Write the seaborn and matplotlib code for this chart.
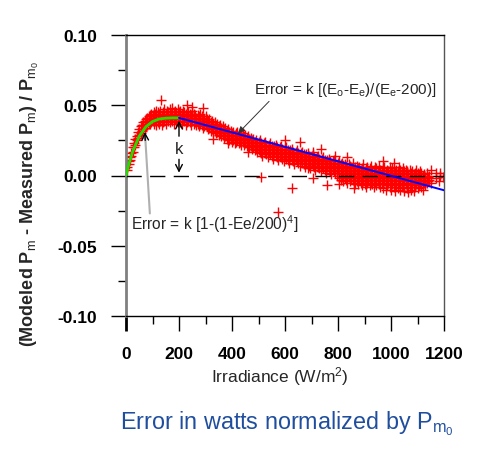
import matplotlib
matplotlib.use("Agg")
import matplotlib.pyplot as plt
import numpy as np
import pandas as pd
import seaborn as sns
from matplotlib.ticker import FixedLocator, FuncFormatter

# ---------------- data ----------------
irr_rise = [5, 10, 15, 20, 25, 30, 35, 40, 45, 50, 55, 60, 65, 70, 75, 80, 85, 90, 95, 100]
err_rise = [[0.004, 0.006], [0.008, 0.010], [0.011, 0.013], [0.014, 0.016], [0.017, 0.020],
            [0.020, 0.023], [0.022, 0.026], [0.025, 0.028], [0.027, 0.031], [0.029, 0.033],
            [0.030, 0.035], [0.032, 0.036], [0.033, 0.038], [0.034, 0.039, 0.036],
            [0.035, 0.040, 0.037], [0.036, 0.041, 0.038], [0.037, 0.042, 0.039],
            [0.037, 0.043, 0.040], [0.038, 0.044, 0.041], [0.039, 0.043, 0.041]]

irr_peak = [105, 110, 115, 120, 125, 130, 135, 140, 145, 150, 155, 160, 165, 170, 175, 180, 185, 190,
            195, 200, 205, 210, 215, 220, 225, 230, 235, 240, 245, 250, 255, 260, 265, 270, 275, 280,
            285, 290, 295, 300]
err_peak = [[0.037, 0.042, 0.045], [0.039, 0.044, 0.041], [0.036, 0.043, 0.046], [0.040, 0.038, 0.045],
            [0.041, 0.044, 0.037], [0.039, 0.046, 0.042], [0.040, 0.043, 0.036], [0.038, 0.045, 0.041],
            [0.042, 0.047, 0.039], [0.040, 0.044, 0.037], [0.043, 0.041, 0.046], [0.039, 0.045, 0.042],
            [0.041, 0.047, 0.038], [0.040, 0.044, 0.043], [0.042, 0.048, 0.039], [0.041, 0.045, 0.037],
            [0.043, 0.040, 0.046], [0.039, 0.044, 0.042], [0.041, 0.047, 0.038], [0.040, 0.045, 0.043],
            [0.042, 0.038, 0.046], [0.041, 0.044, 0.037], [0.040, 0.046, 0.043], [0.039, 0.042, 0.045],
            [0.041, 0.036, 0.044], [0.040, 0.043, 0.038], [0.042, 0.039, 0.045], [0.038, 0.041, 0.044],
            [0.040, 0.036, 0.043], [0.039, 0.042, 0.046], [0.037, 0.041, 0.044], [0.040, 0.038, 0.043],
            [0.036, 0.041, 0.039], [0.039, 0.043, 0.037], [0.038, 0.035, 0.042], [0.040, 0.037, 0.044],
            [0.036, 0.039, 0.042], [0.038, 0.034, 0.041], [0.037, 0.040, 0.035], [0.039, 0.036, 0.042]]

irr_fall = [305, 310, 315, 320, 325, 330, 335, 340, 345, 350, 355, 360, 365, 370, 375, 380, 385, 390,
            395, 400, 405, 410, 415, 420, 425, 430, 435, 440, 445, 450, 455, 460, 465, 470, 475, 480,
            485, 490, 495, 500]
err_fall = [[0.035, 0.038, 0.040], [0.037, 0.033, 0.039], [0.034, 0.036, 0.040], [0.036, 0.032, 0.038],
            [0.035, 0.039, 0.033], [0.034, 0.037, 0.031], [0.036, 0.032, 0.038], [0.033, 0.035, 0.030],
            [0.034, 0.037, 0.031], [0.032, 0.035, 0.029], [0.033, 0.030, 0.036], [0.031, 0.034, 0.028],
            [0.032, 0.029, 0.035], [0.030, 0.033, 0.027], [0.031, 0.034, 0.028], [0.029, 0.032, 0.026],
            [0.030, 0.027, 0.033], [0.028, 0.031, 0.025], [0.029, 0.032, 0.026], [0.027, 0.030, 0.024],
            [0.028, 0.031, 0.025], [0.026, 0.029, 0.023], [0.027, 0.030, 0.024], [0.028, 0.025, 0.031],
            [0.026, 0.029, 0.023], [0.027, 0.024, 0.030], [0.025, 0.028, 0.022], [0.027, 0.024, 0.030],
            [0.025, 0.028, 0.022], [0.026, 0.023, 0.029], [0.024, 0.027, 0.021], [0.025, 0.022, 0.028],
            [0.023, 0.026, 0.020], [0.024, 0.021, 0.027], [0.022, 0.025, 0.019], [0.023, 0.020, 0.026],
            [0.021, 0.024, 0.018], [0.022, 0.019, 0.025], [0.020, 0.023, 0.017], [0.021, 0.018, 0.024]]

irr_mid = [505, 510, 515, 520, 525, 530, 535, 540, 545, 550, 555, 560, 565, 570, 575, 580, 585, 590,
           595, 600, 605, 610, 615, 620, 625, 630, 635, 640, 645, 650, 655, 660, 665, 670, 675, 680,
           685, 690, 695, 700, 705, 710, 715, 720, 725, 730, 735, 740, 745, 750, 755, 760, 765, 770,
           775, 780, 785, 790, 795, 800]
err_mid = [[0.017, 0.022, 0.025], [0.020, 0.016, 0.023], [0.020, 0.017, 0.014], [0.023, 0.018, 0.021],
           [0.016, 0.021, 0.024], [0.019, 0.015, 0.022], [0.019, 0.016, 0.013], [0.022, 0.017, 0.020],
           [0.015, 0.020, 0.023], [0.018, 0.014, 0.021], [0.018, 0.015, 0.012], [0.021, 0.016, 0.019],
           [0.014, 0.019, 0.022], [0.017, 0.013, 0.020], [0.017, 0.014, 0.011], [0.020, 0.015, 0.018],
           [0.013, 0.018, 0.021], [0.016, 0.012, 0.019], [0.016, 0.013, 0.010], [0.019, 0.014, 0.017],
           [0.012, 0.017, 0.020], [0.015, 0.011, 0.018], [0.015, 0.012, 0.009], [0.018, 0.013, 0.016],
           [0.011, 0.016, 0.019], [0.014, 0.010, 0.017], [0.014, 0.011, 0.008], [0.017, 0.012, 0.015],
           [0.010, 0.015, 0.018], [0.013, 0.009, 0.016], [0.013, 0.010, 0.007], [0.016, 0.011, 0.014],
           [0.009, 0.014, 0.017], [0.012, 0.008, 0.015], [0.012, 0.009, 0.006], [0.015, 0.010, 0.013],
           [0.008, 0.013, 0.016], [0.011, 0.007, 0.014], [0.011, 0.008, 0.005], [0.014, 0.009, 0.012],
           [0.007, 0.012, 0.015], [0.010, 0.006, 0.013], [0.010, 0.007, 0.004], [0.013, 0.008, 0.011],
           [0.006, 0.011, 0.014], [0.009, 0.005, 0.012], [0.009, 0.006, 0.003], [0.012, 0.007, 0.010],
           [0.005, 0.010, 0.013], [0.008, 0.004, 0.011], [0.008, 0.005, 0.002], [0.011, 0.006, 0.009],
           [0.004, 0.009, 0.012], [0.007, 0.003, 0.010], [0.007, 0.004, 0.001], [0.010, 0.005, 0.008],
           [0.003, 0.008, 0.011], [0.006, 0.002, 0.009], [0.006, 0.003, 0.000], [0.009, 0.004, 0.007]]

irr_tail = [805, 810, 815, 820, 825, 830, 835, 840, 845, 850, 855, 860, 865, 870, 875, 880, 885, 890,
            895, 900, 905, 910, 915, 920, 925, 930, 935, 940, 945, 950, 955, 960, 965, 970, 975, 980,
            985, 990, 995, 1000, 1005, 1010, 1015, 1020, 1025, 1030, 1035, 1040, 1045, 1050, 1055,
            1060, 1065, 1070, 1075, 1080, 1085, 1090, 1095, 1100, 1105, 1110, 1115, 1120, 1125, 1130,
            1135, 1140, 1145, 1150, 1170, 1185, 1195]
err_tail = [[0.002, 0.007, -0.002, 0.010], [0.005, 0.000, 0.008, -0.003], [0.003, -0.001, 0.006, 0.009],
            [0.001, 0.006, -0.004, 0.004], [0.004, -0.002, 0.008, 0.001], [0.002, 0.007, -0.003, 0.005],
            [0.000, 0.005, -0.005, 0.003], [0.003, -0.001, 0.008, 0.006], [0.001, 0.004, -0.004, 0.007],
            [-0.002, 0.003, 0.006, 0.000], [0.002, -0.003, 0.005, 0.009], [0.000, 0.004, -0.005, 0.002],
            [0.003, -0.002, 0.006, -0.006], [0.001, -0.004, 0.004, 0.007], [-0.001, 0.003, -0.006, 0.005],
            [0.002, -0.003, 0.006, 0.000], [0.000, 0.004, -0.005, -0.002], [-0.002, 0.002, 0.005, -0.007],
            [0.001, -0.004, 0.004, 0.008], [-0.001, 0.003, -0.006, 0.001], [0.000, -0.003, 0.005, -0.008],
            [-0.002, 0.002, 0.006, -0.005], [0.001, -0.004, 0.003, -0.001], [-0.003, 0.001, 0.005, -0.007],
            [0.000, -0.005, 0.004, 0.007], [-0.002, 0.002, -0.006, 0.000], [0.001, -0.003, 0.004, -0.008],
            [-0.001, 0.003, -0.005, 0.006], [-0.003, 0.001, 0.005, -0.007], [0.000, -0.004, 0.003, -0.001],
            [-0.002, 0.002, -0.006, 0.007], [0.001, -0.003, 0.004, -0.008], [-0.001, 0.003, -0.005, 0.000],
            [-0.003, 0.001, 0.005, -0.009], [0.000, -0.004, 0.002, 0.006], [-0.002, 0.002, -0.006, -0.010],
            [0.001, -0.003, 0.004, -0.007], [-0.001, 0.003, -0.005, 0.000], [-0.003, 0.001, 0.006, -0.008],
            [0.000, -0.004, 0.003, -0.010], [-0.002, 0.002, -0.006, 0.005], [0.001, -0.003, 0.004, -0.008],
            [-0.001, 0.002, -0.005, -0.011], [-0.003, 0.001, 0.004, -0.007], [0.000, -0.004, 0.003, -0.009],
            [-0.002, 0.002, -0.006, 0.006], [0.001, -0.003, 0.004, -0.010], [-0.001, 0.002, -0.005, -0.008],
            [-0.003, 0.001, 0.005, -0.007], [0.000, -0.004, 0.003, -0.011], [-0.002, 0.002, -0.006, 0.004],
            [-0.001, -0.003, 0.003, -0.009], [-0.003, 0.001, -0.005, -0.012], [-0.001, -0.004, 0.004, -0.008],
            [-0.002, 0.002, -0.006, -0.010], [0.000, -0.003, 0.003, -0.007], [-0.003, 0.001, -0.005, -0.011],
            [-0.001, -0.004, 0.002, -0.008], [-0.002, 0.001, -0.006, 0.004], [-0.004, -0.001, 0.002, -0.009],
            [-0.002, -0.005, 0.001, -0.007], [-0.003, 0.000, -0.006, 0.003], [-0.001, -0.004, 0.002, -0.008],
            [-0.003, -0.006, 0.000, -0.010], [-0.002, 0.001, -0.005], [-0.004, -0.001, -0.007],
            [-0.002, 0.002, -0.005], [-0.004, -0.001], [-0.003, 0.000], [-0.005], [0.002, -0.002],
            [0.002, 0.000], [-0.001]]

irr_stray = [132, 230, 250, 290, 330, 385, 460, 509, 573, 600, 626, 657, 687, 706, 706, 735, 758,
             790, 804, 835, 861, 970, 1010, 1150, 1180]
err_stray = [0.0536, 0.050, 0.049, 0.048, 0.026, 0.023, 0.017, -0.001, -0.026, 0.025, -0.0086, 0.024,
             0.005, -0.002, 0.017, 0.019, -0.0066, 0.014, -0.0064, 0.013, -0.0086, 0.010, 0.009,
             0.004, -0.004]

# model curves
irr_green = [0, 10, 25, 50, 75, 100, 125, 150, 175, 200]
err_green = [0.0, 0.0076, 0.017, 0.028, 0.0347, 0.0384, 0.0402, 0.0408, 0.041, 0.041]
irr_blue = [200, 1200]
err_blue = [0.041, -0.0105]

x_ticks = [0, 200, 400, 600, 800, 1000, 1200]
y_ticks = [-0.10, -0.05, 0.00, 0.05, 0.10]

# ---------------- build table ----------------
rows = []
for irr, errs in [(irr_rise, err_rise), (irr_peak, err_peak), (irr_fall, err_fall),
                  (irr_mid, err_mid), (irr_tail, err_tail)]:
    for e, vs in zip(irr, errs):
        for v in vs:
            rows.append((e, v))
rows += list(zip(irr_stray, err_stray))
df = pd.DataFrame(rows, columns=["irr", "err"])
green_df = pd.DataFrame({"irr": irr_green, "err": err_green})
blue_df = pd.DataFrame({"irr": irr_blue, "err": err_blue})

# ---------------- style ----------------
sns.set_style("ticks")
plt.rcParams['font.family'] = ['Liberation Sans', 'DejaVu Sans']
plt.rcParams['mathtext.fontset'] = 'custom'
plt.rcParams['mathtext.rm'] = 'Liberation Sans'
plt.rcParams['mathtext.it'] = 'Liberation Sans:italic'
plt.rcParams['mathtext.bf'] = 'Liberation Sans:bold'

fig = plt.figure(figsize=(4.88, 4.52), dpi=100)
ax = fig.add_axes([126 / 488, 1 - 317 / 452, 318 / 488, 281 / 452])

sns.scatterplot(data=df, x="irr", y="err", marker="+", color="#ff0000", s=48,
                linewidth=1.0, ax=ax, zorder=2, legend=False)
sns.lineplot(data=green_df, x="irr", y="err", color="#22dd00", lw=2.0, ax=ax, zorder=4,
             estimator=None, sort=False)
sns.lineplot(data=blue_df, x="irr", y="err", color="#0000ff", lw=1.4, ax=ax, zorder=4,
             estimator=None, sort=False)
ax.axhline(0.0, color="black", lw=1.0, dashes=(11, 6), zorder=3)

ax.set_xlim(0, 1200)
ax.set_ylim(-0.10, 0.10)
ax.xaxis.set_major_locator(FixedLocator(x_ticks))
ax.xaxis.set_minor_locator(FixedLocator([100, 300, 500, 700, 900, 1100]))
ax.yaxis.set_major_locator(FixedLocator(y_ticks))
ax.yaxis.set_minor_locator(FixedLocator([-0.075, -0.025, 0.025, 0.075]))
ax.yaxis.set_major_formatter(FuncFormatter(lambda v, p: f"{v:.2f}".replace("\u2212", "-")))
ax.xaxis.set_major_formatter(FuncFormatter(lambda v, p: f"{v:.0f}"))
ax.tick_params(which="major", direction="out", length=10.5, width=1, colors="black",
               labelsize=12.5)
ax.tick_params(axis="y", which="major", pad=10.5)
ax.tick_params(axis="x", which="major", pad=11)
ax.tick_params(which="minor", direction="out", length=5.5, width=1, colors="black")
for lab in ax.get_xticklabels() + ax.get_yticklabels():
    lab.set_fontweight("bold")
# first x tick continues the grey left axis line
ax.xaxis.get_major_ticks()[0].tick1line.set_color("#808080")
ax.xaxis.get_major_ticks()[0].tick1line.set_markeredgewidth(2.0)

for side in ["top", "right", "bottom"]:
    ax.spines[side].set_visible(True)
    ax.spines[side].set_color("black")
    ax.spines[side].set_linewidth(1.0)
ax.spines["left"].set_color("#808080")
ax.spines["left"].set_linewidth(2.0)
ax.spines["right"].set_color("#555555")

ax.set_xlabel(r"Irradiance (W/m$^{2}$)", fontsize=12.5, fontweight="normal")
ax.set_ylabel(r"(Modeled P$_{\mathrm{m}}$ - Measured P$_{\mathrm{m}}$) / P$_{\mathrm{m}_{\mathrm{0}}}$",
              fontsize=13, fontweight="bold")
ax.xaxis.set_label_coords((280 - 126) / 318, (317 - 365) / 281)
ax.yaxis.set_label_coords((41 - 126) / 318, (317 - 204) / 281)

# k arrows
ax.annotate("", xy=(200, 0.041), xytext=(200, 0.026),
            arrowprops=dict(arrowstyle="->", color="black", lw=1.0, mutation_scale=12), zorder=5)
ax.annotate("", xy=(200, 0.0), xytext=(200, 0.0135),
            arrowprops=dict(arrowstyle="->", color="black", lw=1.0, mutation_scale=12), zorder=5)
ax.text(200, 0.0195, "k", ha="center", va="center", fontsize=12, zorder=5)

# upper annotation
ax.annotate(r"Error = k [(E$_{\mathrm{o}}$-E$_{\mathrm{e}}$)/(E$_{\mathrm{e}}$-200)]",
            xy=(423, 0.030), xytext=(483, 0.0615), fontsize=11, ha="left", va="center",
            arrowprops=dict(arrowstyle="-|>", color="#333333", lw=0.7, mutation_scale=10,
                            shrinkA=0, shrinkB=0, relpos=(0.1, 0.0)), zorder=5)

# lower annotation
ax.text(19, -0.034, r"Error = k [1-(1-Ee/200)$^{4}$]", fontsize=11.2, ha="left", va="center", zorder=5)
ax.annotate("", xy=(72, 0.029), xytext=(90, -0.027),
            arrowprops=dict(arrowstyle="-", color="#b0b0b0", lw=1.5, shrinkA=0, shrinkB=0), zorder=5)
ax.annotate("", xy=(71, 0.031), xytext=(72.5, 0.025),
            arrowprops=dict(arrowstyle="->", color="black", lw=1.0, mutation_scale=12,
                            shrinkA=0, shrinkB=0), zorder=5)

fig.text(120 / 488, 1 - 429 / 452, r"Error in watts normalized by P$_{\mathrm{m}_{\mathrm{0}}}$",
         ha="left", va="baseline", fontsize=16.8, color="#1f4e9e")

fig.savefig("out.png", dpi=100)
